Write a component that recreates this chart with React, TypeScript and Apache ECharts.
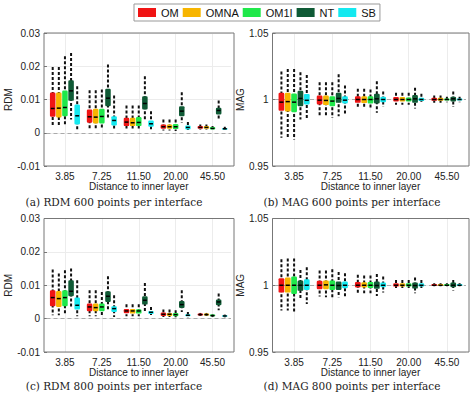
import React, { useEffect, useRef } from 'react';
import * as echarts from 'echarts';

// Categories (distance to inner layer) and methods
const categories = ['3.85', '7.25', '11.50', '20.00', '45.50'];
const methods = ['OM', 'OMNA', 'OM1I', 'NT', 'SB'];
const methodColors = ['#f01414', '#f7b500', '#1fe84a', '#0f5a35', '#14e9f0'];

// Each row: [lower whisker, Q1, median, Q3, upper whisker] per category
const rdm600_OM = [[0.0022, 0.0048, 0.0073, 0.0121, 0.0198], [0.001, 0.003, 0.0048, 0.007, 0.0128], [0.0008, 0.002, 0.0032, 0.0045, 0.0082], [0.0007, 0.0012, 0.0018, 0.0025, 0.004], [0.0008, 0.0012, 0.0016, 0.002, 0.0025]];
const rdm600_OMNA = [[0.0022, 0.0046, 0.0074, 0.0121, 0.0198], [0.001, 0.0028, 0.0047, 0.0072, 0.0128], [0.0008, 0.002, 0.003, 0.0045, 0.0082], [0.0007, 0.0012, 0.0018, 0.0025, 0.004], [0.0008, 0.0012, 0.0016, 0.002, 0.0025]];
const rdm600_OM1I = [[0.0022, 0.005, 0.0076, 0.0127, 0.023], [0.001, 0.0028, 0.0049, 0.0072, 0.013], [0.0008, 0.002, 0.0031, 0.0047, 0.0082], [0.0005, 0.0011, 0.0018, 0.0026, 0.004], [0.0007, 0.001, 0.0013, 0.0017, 0.002]];
const rdm600_NT = [[0.004, 0.0096, 0.0126, 0.0158, 0.024], [0.004, 0.008, 0.0104, 0.0132, 0.0205], [0.004, 0.007, 0.0088, 0.011, 0.017], [0.003, 0.005, 0.0065, 0.008, 0.0122], [0.0038, 0.0055, 0.0067, 0.0075, 0.0097]];
const rdm600_SB = [[0.0008, 0.0025, 0.0051, 0.0085, 0.014], [0.0008, 0.0022, 0.0037, 0.005, 0.0112], [0.0005, 0.0018, 0.0027, 0.0037, 0.0065], [0.0005, 0.001, 0.0016, 0.0022, 0.0032], [0.0005, 0.0009, 0.0012, 0.0014, 0.0018]];

const mag600_OM = [[0.9713, 0.9915, 0.998, 1.005, 1.021], [0.987, 0.9963, 0.9995, 1.003, 1.013], [0.993, 0.9975, 1.0, 1.0025, 1.008], [0.996, 0.9985, 1.0, 1.0018, 1.005], [0.9975, 0.999, 1.0, 1.0013, 1.003]];
const mag600_OMNA = [[0.9705, 0.991, 0.9984, 1.005, 1.023], [0.987, 0.9958, 0.9993, 1.003, 1.013], [0.993, 0.9973, 1.0, 1.0025, 1.008], [0.996, 0.9985, 1.0, 1.0018, 1.005], [0.9975, 0.999, 1.0, 1.0013, 1.003]];
const mag600_OM1I = [[0.97, 0.9905, 0.998, 1.0045, 1.023], [0.9863, 0.995, 0.9988, 1.0025, 1.013], [0.9925, 0.997, 1.0, 1.0025, 1.0075], [0.996, 0.9985, 1.0, 1.0015, 1.005], [0.998, 0.9993, 1.0, 1.0008, 1.002]];
const mag600_NT = [[0.985, 0.995, 1.0008, 1.0065, 1.0205], [0.9875, 0.9975, 1.0008, 1.005, 1.019], [0.99, 0.997, 1.0005, 1.0043, 1.0138], [0.9933, 0.9975, 1.0005, 1.0033, 1.0088], [0.9943, 0.9985, 1.0005, 1.002, 1.006]];
const mag600_SB = [[0.985, 0.9963, 0.9994, 1.0042, 1.0185], [0.9888, 0.997, 0.9995, 1.0025, 1.0105], [0.9945, 0.998, 1.0, 1.002, 1.006], [0.997, 0.9988, 1.0, 1.0013, 1.0043], [0.998, 0.9993, 1.0, 1.0008, 1.002]];

const rdm800_OM = [[0.001, 0.0037, 0.0063, 0.0085, 0.0147], [0.0007, 0.0022, 0.0035, 0.0045, 0.0085], [0.0007, 0.0016, 0.0023, 0.0029, 0.0043], [0.0005, 0.0008, 0.0013, 0.0018, 0.0027], [0.0007, 0.0009, 0.0012, 0.0015, 0.0017]];
const rdm800_OMNA = [[0.001, 0.0035, 0.006, 0.0083, 0.0135], [0.0007, 0.0022, 0.0033, 0.0045, 0.0085], [0.0007, 0.0015, 0.0023, 0.0029, 0.0043], [0.0005, 0.0008, 0.0013, 0.0017, 0.0027], [0.0007, 0.0009, 0.0012, 0.0015, 0.0017]];
const rdm800_OM1I = [[0.001, 0.0037, 0.0063, 0.0085, 0.0145], [0.0007, 0.0022, 0.0035, 0.0045, 0.008], [0.0007, 0.0015, 0.0023, 0.0028, 0.0043], [0.0004, 0.0007, 0.0012, 0.0017, 0.0025], [0.0005, 0.0007, 0.0009, 0.0012, 0.0013]];
const rdm800_NT = [[0.0035, 0.0067, 0.0082, 0.0115, 0.015], [0.0027, 0.005, 0.0067, 0.0082, 0.0127], [0.002, 0.0042, 0.0055, 0.0067, 0.0107], [0.002, 0.0032, 0.0042, 0.0053, 0.0085], [0.0025, 0.004, 0.005, 0.0057, 0.0075]];
const rdm800_SB = [[0.0007, 0.0027, 0.004, 0.0063, 0.0115], [0.0005, 0.002, 0.003, 0.0037, 0.007], [0.0007, 0.0014, 0.0019, 0.0023, 0.0035], [0.0004, 0.0007, 0.001, 0.0013, 0.002], [0.0004, 0.0006, 0.0008, 0.001, 0.0012]];

const mag800_OM = [[0.981, 0.9945, 1.0, 1.0053, 1.0195], [0.9915, 0.997, 1.0, 1.0033, 1.011], [0.994, 0.9983, 1.0, 1.0025, 1.0078], [0.9965, 0.999, 1.0, 1.0015, 1.004], [0.9988, 0.9995, 1.0, 1.001, 1.0015]];
const mag800_OMNA = [[0.981, 0.9945, 1.0, 1.0058, 1.02], [0.991, 0.997, 1.0003, 1.0035, 1.011], [0.994, 0.9983, 1.0, 1.0023, 1.0073], [0.9965, 0.999, 1.0, 1.0015, 1.004], [0.9988, 0.9995, 1.0, 1.001, 1.0015]];
const mag800_OM1I = [[0.9795, 0.9935, 1.0, 1.0065, 1.02], [0.9895, 0.9965, 1.0, 1.0035, 1.012], [0.994, 0.998, 1.0, 1.0025, 1.0073], [0.9965, 0.999, 1.0, 1.0015, 1.004], [0.9988, 0.9995, 1.0, 1.001, 1.0015]];
const mag800_NT = [[0.989, 0.9958, 1.0, 1.0035, 1.0115], [0.991, 0.9965, 0.9998, 1.0028, 1.01], [0.992, 0.9973, 0.9998, 1.0028, 1.0085], [0.994, 0.9975, 0.9998, 1.002, 1.0058], [0.996, 0.9985, 1.0, 1.002, 1.004]];
const mag800_SB = [[0.986, 0.9965, 1.0, 1.0045, 1.0135], [0.9915, 0.9978, 1.0, 1.0028, 1.009], [0.9945, 0.9985, 1.0, 1.002, 1.0065], [0.997, 0.999, 1.0, 1.0015, 1.004], [0.9988, 0.9995, 1.0, 1.001, 1.0015]];

const rdmTicks = { min: -0.01, max: 0.03, interval: 0.01 };
const magTicks = { min: 0.95, max: 1.05, interval: 0.05 };

const captions = [
  '(a) RDM 600 points per interface',
  '(b) MAG 600 points per interface',
  '(c) RDM 800 points per interface',
  '(d) MAG 800 points per interface',
];

const panels = [
  { yName: 'RDM', sets: [rdm600_OM, rdm600_OMNA, rdm600_OM1I, rdm600_NT, rdm600_SB], ticks: rdmTicks, ref: 0,
    grid: { left: 46.5, top: 33, width: 184.5, height: 133 }, frame: { x: 44, w: 190 }, nameGap: 28, capX: 114, capY: 202 },
  { yName: 'MAG', sets: [mag600_OM, mag600_OMNA, mag600_OM1I, mag600_NT, mag600_SB], ticks: magTicks, ref: 1,
    grid: { left: 275, top: 33, width: 191, height: 133 }, frame: { x: 272.5, w: 196.5 }, nameGap: 23, capX: 352, capY: 202 },
  { yName: 'RDM', sets: [rdm800_OM, rdm800_OMNA, rdm800_OM1I, rdm800_NT, rdm800_SB], ticks: rdmTicks, ref: 0,
    grid: { left: 46.5, top: 218.5, width: 184.5, height: 133.5 }, frame: { x: 44, w: 190 }, nameGap: 28, capX: 114, capY: 386 },
  { yName: 'MAG', sets: [mag800_OM, mag800_OMNA, mag800_OM1I, mag800_NT, mag800_SB], ticks: magTicks, ref: 1,
    grid: { left: 275, top: 218.5, width: 191, height: 133.5 }, frame: { x: 272.5, w: 196.5 }, nameGap: 23, capX: 352, capY: 386 },
];

const SANS = 'Liberation Sans';

function makeRender(k: number, color: string) {
  return (params: any, api: any) => {
    const ci = api.value(0);
    const band = api.size([1, 0])[0];
    const base = api.coord([ci, api.value(3)]);
    const x = base[0] + (k - 2) * band * 0.166;
    const w = band * 0.15;
    const yMin = api.coord([ci, api.value(1)])[1];
    const yQ1 = api.coord([ci, api.value(2)])[1];
    const yMed = base[1];
    const yQ3 = api.coord([ci, api.value(4)])[1];
    const yMax = api.coord([ci, api.value(5)])[1];
    return {
      type: 'group',
      children: [
        { type: 'line', shape: { x1: x, y1: yMax, x2: x, y2: yMin },
          style: { stroke: '#111', lineWidth: 2, lineDash: [3, 2] } },
        { type: 'rect', shape: { x: x - w / 2, y: yQ3, width: w, height: Math.max(yQ1 - yQ3, 1.5), r: 1.2 },
          style: { fill: color } },
        { type: 'line', shape: { x1: x - w / 2 + 0.8, y1: yMed, x2: x + w / 2 - 0.8, y2: yMed },
          style: { stroke: '#000', lineWidth: 1.5 } },
      ],
    };
  };
}

export default function App() {
  const ref = useRef<HTMLDivElement>(null);
  useEffect(() => {
    if (!ref.current) return;
    const chart = echarts.init(ref.current, undefined, { renderer: 'svg' });
    const grids: any[] = [];
    const xAxes: any[] = [];
    const yAxes: any[] = [];
    const series: any[] = [];
    const graphics: any[] = [];
    panels.forEach((p, pi) => {
      grids.push({ ...p.grid, containLabel: false });
      xAxes.push({
        type: 'category', gridIndex: pi, data: categories, boundaryGap: true,
        name: 'Distance to inner layer', nameLocation: 'middle', nameGap: 13,
        nameTextStyle: { fontFamily: SANS, fontSize: 10, color: '#222' },
        axisLine: { show: false },
        axisTick: { show: true, alignWithLabel: true, inside: true, length: 3, lineStyle: { color: '#777' } },
        axisLabel: { fontFamily: SANS, fontSize: 10, color: '#222', margin: 5 },
        splitLine: { show: false },
      });
      yAxes.push({
        type: 'value', gridIndex: pi, min: p.ticks.min, max: p.ticks.max, interval: p.ticks.interval,
        offset: p.grid.left - p.frame.x,
        name: p.yName, nameLocation: 'middle', nameGap: p.nameGap, nameRotate: 90,
        nameTextStyle: { fontFamily: SANS, fontSize: 10, color: '#222' },
        axisLine: { show: false },
        axisTick: { show: true, inside: true, length: 3, lineStyle: { color: '#777' } },
        axisLabel: { fontFamily: SANS, fontSize: 10, color: '#222', margin: 4 },
        splitLine: { show: true, lineStyle: { color: '#ececec', width: 1 } },
      });
      // reference lines and vertical grid lines
      series.push({
        type: 'line', xAxisIndex: pi, yAxisIndex: pi, data: [], silent: true, z: 1,
        markLine: {
          silent: true, symbol: 'none', z: 1, label: { show: false },
          data: [
            ...categories.map((c) => ({ xAxis: c, lineStyle: { color: '#ececec', width: 1, type: 'solid' } })),
            { yAxis: p.ref, lineStyle: { color: '#aaaaaa', width: 1, type: [4, 3] } },
          ],
        },
      });
      p.sets.forEach((set, k) => {
        series.push({
          type: 'custom', name: methods[k], xAxisIndex: pi, yAxisIndex: pi, z: 3,
          itemStyle: { color: methodColors[k] },
          encode: { x: 0, y: [1, 2, 3, 4, 5] },
          renderItem: makeRender(k, methodColors[k]),
          data: set.map((v, ci) => [ci, ...v]),
        });
      });
      graphics.push({
        type: 'rect', silent: true, z: 10,
        shape: { x: p.frame.x, y: p.grid.top, width: p.frame.w, height: p.grid.height },
        style: { fill: 'none', stroke: '#777', lineWidth: 1 },
      });
      graphics.push({
        type: 'text', silent: true, x: p.capX, y: p.capY,
        style: { text: captions[pi], fill: '#222', fontFamily: 'DejaVu Serif', fontSize: 10.5, textAlign: 'center', textVerticalAlign: 'middle' },
      });
    });
    chart.setOption({
      animation: false,
      backgroundColor: '#ffffff',
      legend: {
        data: methods, left: 134, top: 4, icon: 'rect', itemWidth: 18, itemHeight: 9, itemGap: 4,
        borderColor: '#999', borderWidth: 1, padding: [3, 4], backgroundColor: '#fff',
        textStyle: { fontFamily: SANS, fontSize: 11, color: '#111' },
      },
      grid: grids,
      xAxis: xAxes,
      yAxis: yAxes,
      series,
      graphic: graphics,
    });
    return () => chart.dispose();
  }, []);
  return <div ref={ref} style={{ position: 'absolute', left: 0, top: 0, width: 474, height: 398, background: '#fff' }} />;
}
